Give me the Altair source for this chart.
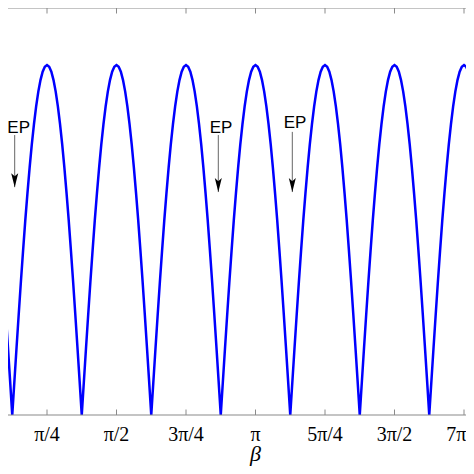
import altair as alt
import pandas as pd

amp = [
    0.383, 0.290, 0.195, 0.098, 0.0,
    # arch 1
    0.098, 0.195, 0.290, 0.383, 0.471, 0.556, 0.634, 0.707, 0.773, 0.831, 0.882, 0.924, 0.957, 0.981, 0.995, 1.0,
    0.995, 0.981, 0.957, 0.924, 0.882, 0.831, 0.773, 0.707, 0.634, 0.556, 0.471, 0.383, 0.290, 0.195, 0.098, 0.0,
    # arch 2
    0.098, 0.195, 0.290, 0.383, 0.471, 0.556, 0.634, 0.707, 0.773, 0.831, 0.882, 0.924, 0.957, 0.981, 0.995, 1.0,
    0.995, 0.981, 0.957, 0.924, 0.882, 0.831, 0.773, 0.707, 0.634, 0.556, 0.471, 0.383, 0.290, 0.195, 0.098, 0.0,
    # arch 3
    0.098, 0.195, 0.290, 0.383, 0.471, 0.556, 0.634, 0.707, 0.773, 0.831, 0.882, 0.924, 0.957, 0.981, 0.995, 1.0,
    0.995, 0.981, 0.957, 0.924, 0.882, 0.831, 0.773, 0.707, 0.634, 0.556, 0.471, 0.383, 0.290, 0.195, 0.098, 0.0,
    # arch 4
    0.098, 0.195, 0.290, 0.383, 0.471, 0.556, 0.634, 0.707, 0.773, 0.831, 0.882, 0.924, 0.957, 0.981, 0.995, 1.0,
    0.995, 0.981, 0.957, 0.924, 0.882, 0.831, 0.773, 0.707, 0.634, 0.556, 0.471, 0.383, 0.290, 0.195, 0.098, 0.0,
    # arch 5
    0.098, 0.195, 0.290, 0.383, 0.471, 0.556, 0.634, 0.707, 0.773, 0.831, 0.882, 0.924, 0.957, 0.981, 0.995, 1.0,
    0.995, 0.981, 0.957, 0.924, 0.882, 0.831, 0.773, 0.707, 0.634, 0.556, 0.471, 0.383, 0.290, 0.195, 0.098, 0.0,
    # arch 6
    0.098, 0.195, 0.290, 0.383, 0.471, 0.556, 0.634, 0.707, 0.773, 0.831, 0.882, 0.924, 0.957, 0.981, 0.995, 1.0,
    0.995, 0.981, 0.957, 0.924, 0.882, 0.831, 0.773, 0.707, 0.634, 0.556, 0.471, 0.383, 0.290, 0.195, 0.098, 0.0,
    # arch 7 (partly outside)
    0.098, 0.195, 0.290, 0.383, 0.471, 0.556, 0.634, 0.707, 0.773, 0.831, 0.882, 0.924, 0.957, 0.981, 0.995, 1.0,
    0.995, 0.981, 0.957, 0.924, 0.882, 0.831, 0.773, 0.707,
]
beta_k = list(range(12, 12 + len(amp)))  # units of pi/128

tick_vals = [0.25, 0.5, 0.75, 1.0, 1.25, 1.5, 1.75]
tick_labels = ["π/4", "π/2", "3π/4", "π", "5π/4", "3π/2", "7π/4"]
x_title = "β"

ep_arrow_x = [0.1338, 0.8662, 1.1324]
ep_text_x = [0.148, 0.8759, 1.142]
ep_text_y = [0.806, 0.806, 0.820]
ep_top = [0.800, 0.800, 0.809]
ep_tip = [0.651, 0.637, 0.637]

curve = pd.DataFrame({"b": [k / 128 for k in beta_k], "a": amp})
ticks = pd.DataFrame({"t": tick_vals, "lab": tick_labels})
ep = pd.DataFrame({"ax": ep_arrow_x, "tx": ep_text_x, "ty": ep_text_y,
                   "top": ep_top, "tip": ep_tip, "label": ["EP"] * 3})
title_df = pd.DataFrame({"title": [x_title]})

W, H = 458, 407
x_lo, x_hi = 0.1097, 0.1097 + W / 278
y_lo, y_hi = 0.0, 1.163
xs = alt.Scale(domain=[x_lo, x_hi], nice=False, zero=False)
ys = alt.Scale(domain=[y_lo, y_hi], nice=False, zero=False)

frame = "#8a8a8a"

line = alt.Chart(curve).mark_line(color="#0000ff", strokeWidth=2.5, clip=True).encode(
    x=alt.X("b:Q", scale=xs, axis=None),
    y=alt.Y("a:Q", scale=ys, axis=None),
)

top_ticks = alt.Chart(ticks).mark_rule(color=frame, strokeWidth=1).encode(
    x=alt.X("t:Q", scale=xs, axis=None), y=alt.value(0), y2=alt.value(5.5))

bot_ticks = alt.Chart(ticks).mark_rule(color=frame, strokeWidth=1).encode(
    x=alt.X("t:Q", scale=xs, axis=None), y=alt.value(H - 5.5), y2=alt.value(H))

# frame lines: a rule with only y spans the full plot width
top_line = alt.Chart(title_df).mark_rule(color=frame, strokeWidth=1.2).encode(
    y=alt.Y(datum=y_hi, scale=ys, axis=None))

bot_line = alt.Chart(title_df).mark_rule(color=frame, strokeWidth=1.2).encode(
    y=alt.Y(datum=y_lo, scale=ys, axis=None))

tick_text = alt.Chart(ticks).mark_text(
    font="Liberation Serif", fontSize=20, baseline="alphabetic",
    align="center", color="black").encode(
    x=alt.X("t:Q", scale=xs, axis=None), y=alt.value(H + 26), text="lab:N")

title_text = alt.Chart(title_df).mark_text(
    font="Liberation Serif", fontSize=22, fontStyle="italic", baseline="alphabetic",
    align="center", color="black").encode(
    x=alt.value(247.5), y=alt.value(H + 46), text="title:N")

ep_lines = alt.Chart(ep).mark_rule(color="#666666", strokeWidth=1).encode(
    x=alt.X("ax:Q", scale=xs, axis=None),
    y=alt.Y("top:Q", scale=ys, axis=None), y2="tip:Q")

ep_heads = alt.Chart(ep).mark_point(
    shape="M0,1L-0.5,-1L0,-0.55L0.5,-1Z", size=196, filled=True,
    color="black", opacity=1, strokeWidth=0, yOffset=-7).encode(
    x=alt.X("ax:Q", scale=xs, axis=None),
    y=alt.Y("tip:Q", scale=ys, axis=None))

ep_text = alt.Chart(ep).mark_text(
    font="Liberation Sans", fontSize=17, baseline="alphabetic",
    align="center", color="black").encode(
    x=alt.X("tx:Q", scale=xs, axis=None),
    y=alt.Y("ty:Q", scale=ys, axis=None),
    text="label:N")

chart = alt.layer(line, top_ticks, bot_ticks, top_line, bot_line, tick_text, title_text,
                  ep_lines, ep_heads, ep_text).properties(
    width=W, height=H,
    background="white",
    autosize=alt.AutoSizeParams(type="none"),
    padding={"left": 0, "top": 0, "right": 0, "bottom": 51},
).configure_view(strokeWidth=0, stroke="transparent")

chart.save("out.html", embed_options={"renderer": "svg", "actions": False})
